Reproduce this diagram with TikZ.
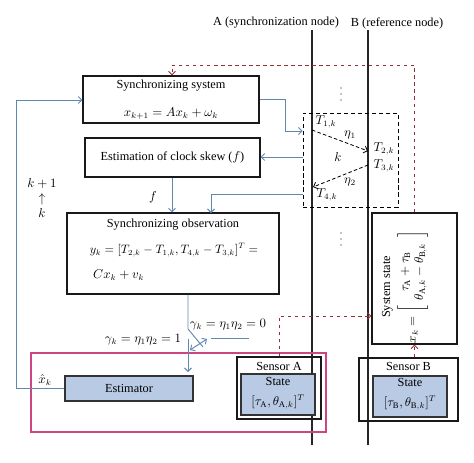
\documentclass[tikz,border=0pt]{standalone}
\usepackage{amsmath}
\usepackage{fontspec}
\setmainfont{Liberation Serif}
\usetikzlibrary{arrows.meta}
\definecolor{flowblue}{RGB}{95,135,178}
\definecolor{boxblue}{RGB}{184,202,228}
\definecolor{linkred}{RGB}{150,45,55}
\definecolor{framepink}{RGB}{205,70,130}
\begin{document}
\begin{tikzpicture}[x=0.03cm,y=-0.03cm,>={Straight Barb[length=3pt,width=6pt]},
  font=\fontsize{10.5}{12.6}\selectfont]
\tikzstyle{blk}=[draw=black!90,line width=0.9pt,rectangle,inner sep=0pt]
\tikzstyle{fillblk}=[blk,fill=boxblue,draw=black!80]
\tikzstyle{flow}=[flowblue,line width=0.8pt]
\tikzstyle{link}=[linkred,dashed,line width=0.8pt]
\tikzstyle{msg}=[->,dash pattern=on 3pt off 2pt,line width=0.7pt]
\useasboundingbox (0,0) rectangle (474,462);
% node time lines
\node (A) at (276,23) {A (synchronization node)};
\node (B) at (397,23) {B (reference node)};
\coordinate (a1) at (312,30);
\coordinate (a2) at (312,445);
\coordinate (b1) at (368,30);
\coordinate (b2) at (368,445);
\draw[line width=0.9pt,black!85] (a1) -- (a2);
\draw[line width=0.9pt,black!85] (b1) -- (b2);
% blocks
\node[blk,minimum width=5.28cm,minimum height=1.41cm] (1) at (171,99.5) {};
\node at (171,86) {Synchronizing system};
\node at (171,114) {$x_{k+1} = Ax_k + \omega_k$};
\node[blk,minimum width=5.25cm,minimum height=1.17cm] (2) at (172.5,157.5) {Estimation of clock skew ($f$)};
\node[blk,minimum width=6.36cm,minimum height=2.43cm] (3) at (173,253.5) {};
\node at (173,225) {Synchronizing observation};
\node[scale=0.95] at (174,250) {$y_k = [T_{2,k}-T_{1,k}, T_{4,k}-T_{3,k}]^T =$};
\node[anchor=west,inner sep=0pt] at (93,275) {$Cx_k + v_k$};
\node[draw,dash pattern=on 3.5pt off 2.5pt,line width=0.7pt,minimum width=2.85cm,minimum height=2.82cm] (5) at (350.5,160) {};
\node[blk,minimum width=2.55cm,minimum height=3.93cm] (6) at (414.5,278.5) {};
\node[rotate=90,align=center] at (405,287) {System state\\[3pt]
  $x_k = \left[\begin{array}{c}\tau_{\mathrm{A}}+\tau_{\mathrm{B}}\\ \theta_{\mathrm{A},k}-\theta_{\mathrm{B},k}\end{array}\right]$};
\draw[framepink,line width=0.9pt] (31,353) rectangle (326,432);
\node[fillblk,minimum width=3.84cm,minimum height=0.75cm] (4) at (129,388.5) {Estimator};
\node[blk,minimum width=2.52cm,minimum height=1.86cm] (7) at (279,388) {};
\node at (279,366) {Sensor A};
\node[fillblk,minimum width=2.22cm,minimum height=1.23cm] (8) at (278,394.5) {};
\node at (278,381) {State};
\node at (278,402) {$[\tau_{\mathrm{A}},\theta_{\mathrm{A},k}]^T$};
\node[blk,minimum width=2.97cm,minimum height=1.89cm] (9) at (408.5,389.5) {};
\node at (408.5,366) {Sensor B};
\node[fillblk,minimum width=2.22cm,minimum height=1.23cm] (10) at (410,396.5) {};
\node at (410,382) {State};
\node at (410,403) {$[\tau_{\mathrm{B}},\theta_{\mathrm{B},k}]^T$};
% message exchange
\node at (326,122) {$T_{1,k}$};
\node at (350,135) {$\eta_1$};
\node at (384,149) {$T_{2,k}$};
\node at (338,157) {$k$};
\node at (384,166) {$T_{3,k}$};
\node at (350,182) {$\eta_2$};
\node at (327,195) {$T_{4,k}$};
\coordinate (t1) at (312,130);
\coordinate (t2) at (368,151);
\coordinate (t3) at (368,165);
\coordinate (t4) at (313,187);
\draw[msg] (t1) -- (t2);
\draw[msg] (t3) -- (t4);
\foreach \y in {88,94,100} \fill (341,\y) circle (0.5pt);
\foreach \y in {233,239,245} \fill (341,\y) circle (0.5pt);
% blue flow
\draw[flow,->] (1.east |- 0,99) -| (285,131) -- (5.west |- 0,131);
\draw[flow,->] (5.west |- 0,157) -- (2.east |- 0,157);
\draw[flow,->] (5.west |- 0,194) -| (211,213);
\draw[flow,->] (2.south -| 172,0) -- (3.north -| 172,0);
\node at (153,197) {$f$};
\draw[flow,->] (4.west) -| (16,100) -- (1.west |- 0,100);
\node at (45,380) {$\hat{x}_k$};
\node[align=center,inner sep=0pt] at (42,198) {$k+1$\\ $\uparrow$\\ $k$};
% switch
\coordinate (s1) at (188,329);
\coordinate (s2) at (203,347);
\coordinate (s3) at (188,339);
\draw[flow] (3.south -| s1) -- (s1) -- (s2);
\draw[flow,<->] (190,350) -- (207,339);
\draw[flow] (211,338) -- (249,338);
\draw[flow,->] (s3) -- (188,372);
\node at (228,325) {$\gamma_k = \eta_1\eta_2 = 0$};
\node at (143,340) {$\gamma_k = \eta_1\eta_2 = 1$};
% red links
\draw[link,->] (6.north) |- (172,65) -- (1.north -| 172,0);
\draw[link,->] (7.north) |- (6.west |- 0,316);
\draw[link,->] (9.north -| 6.south) -- (6.south);
\end{tikzpicture}
\end{document}
